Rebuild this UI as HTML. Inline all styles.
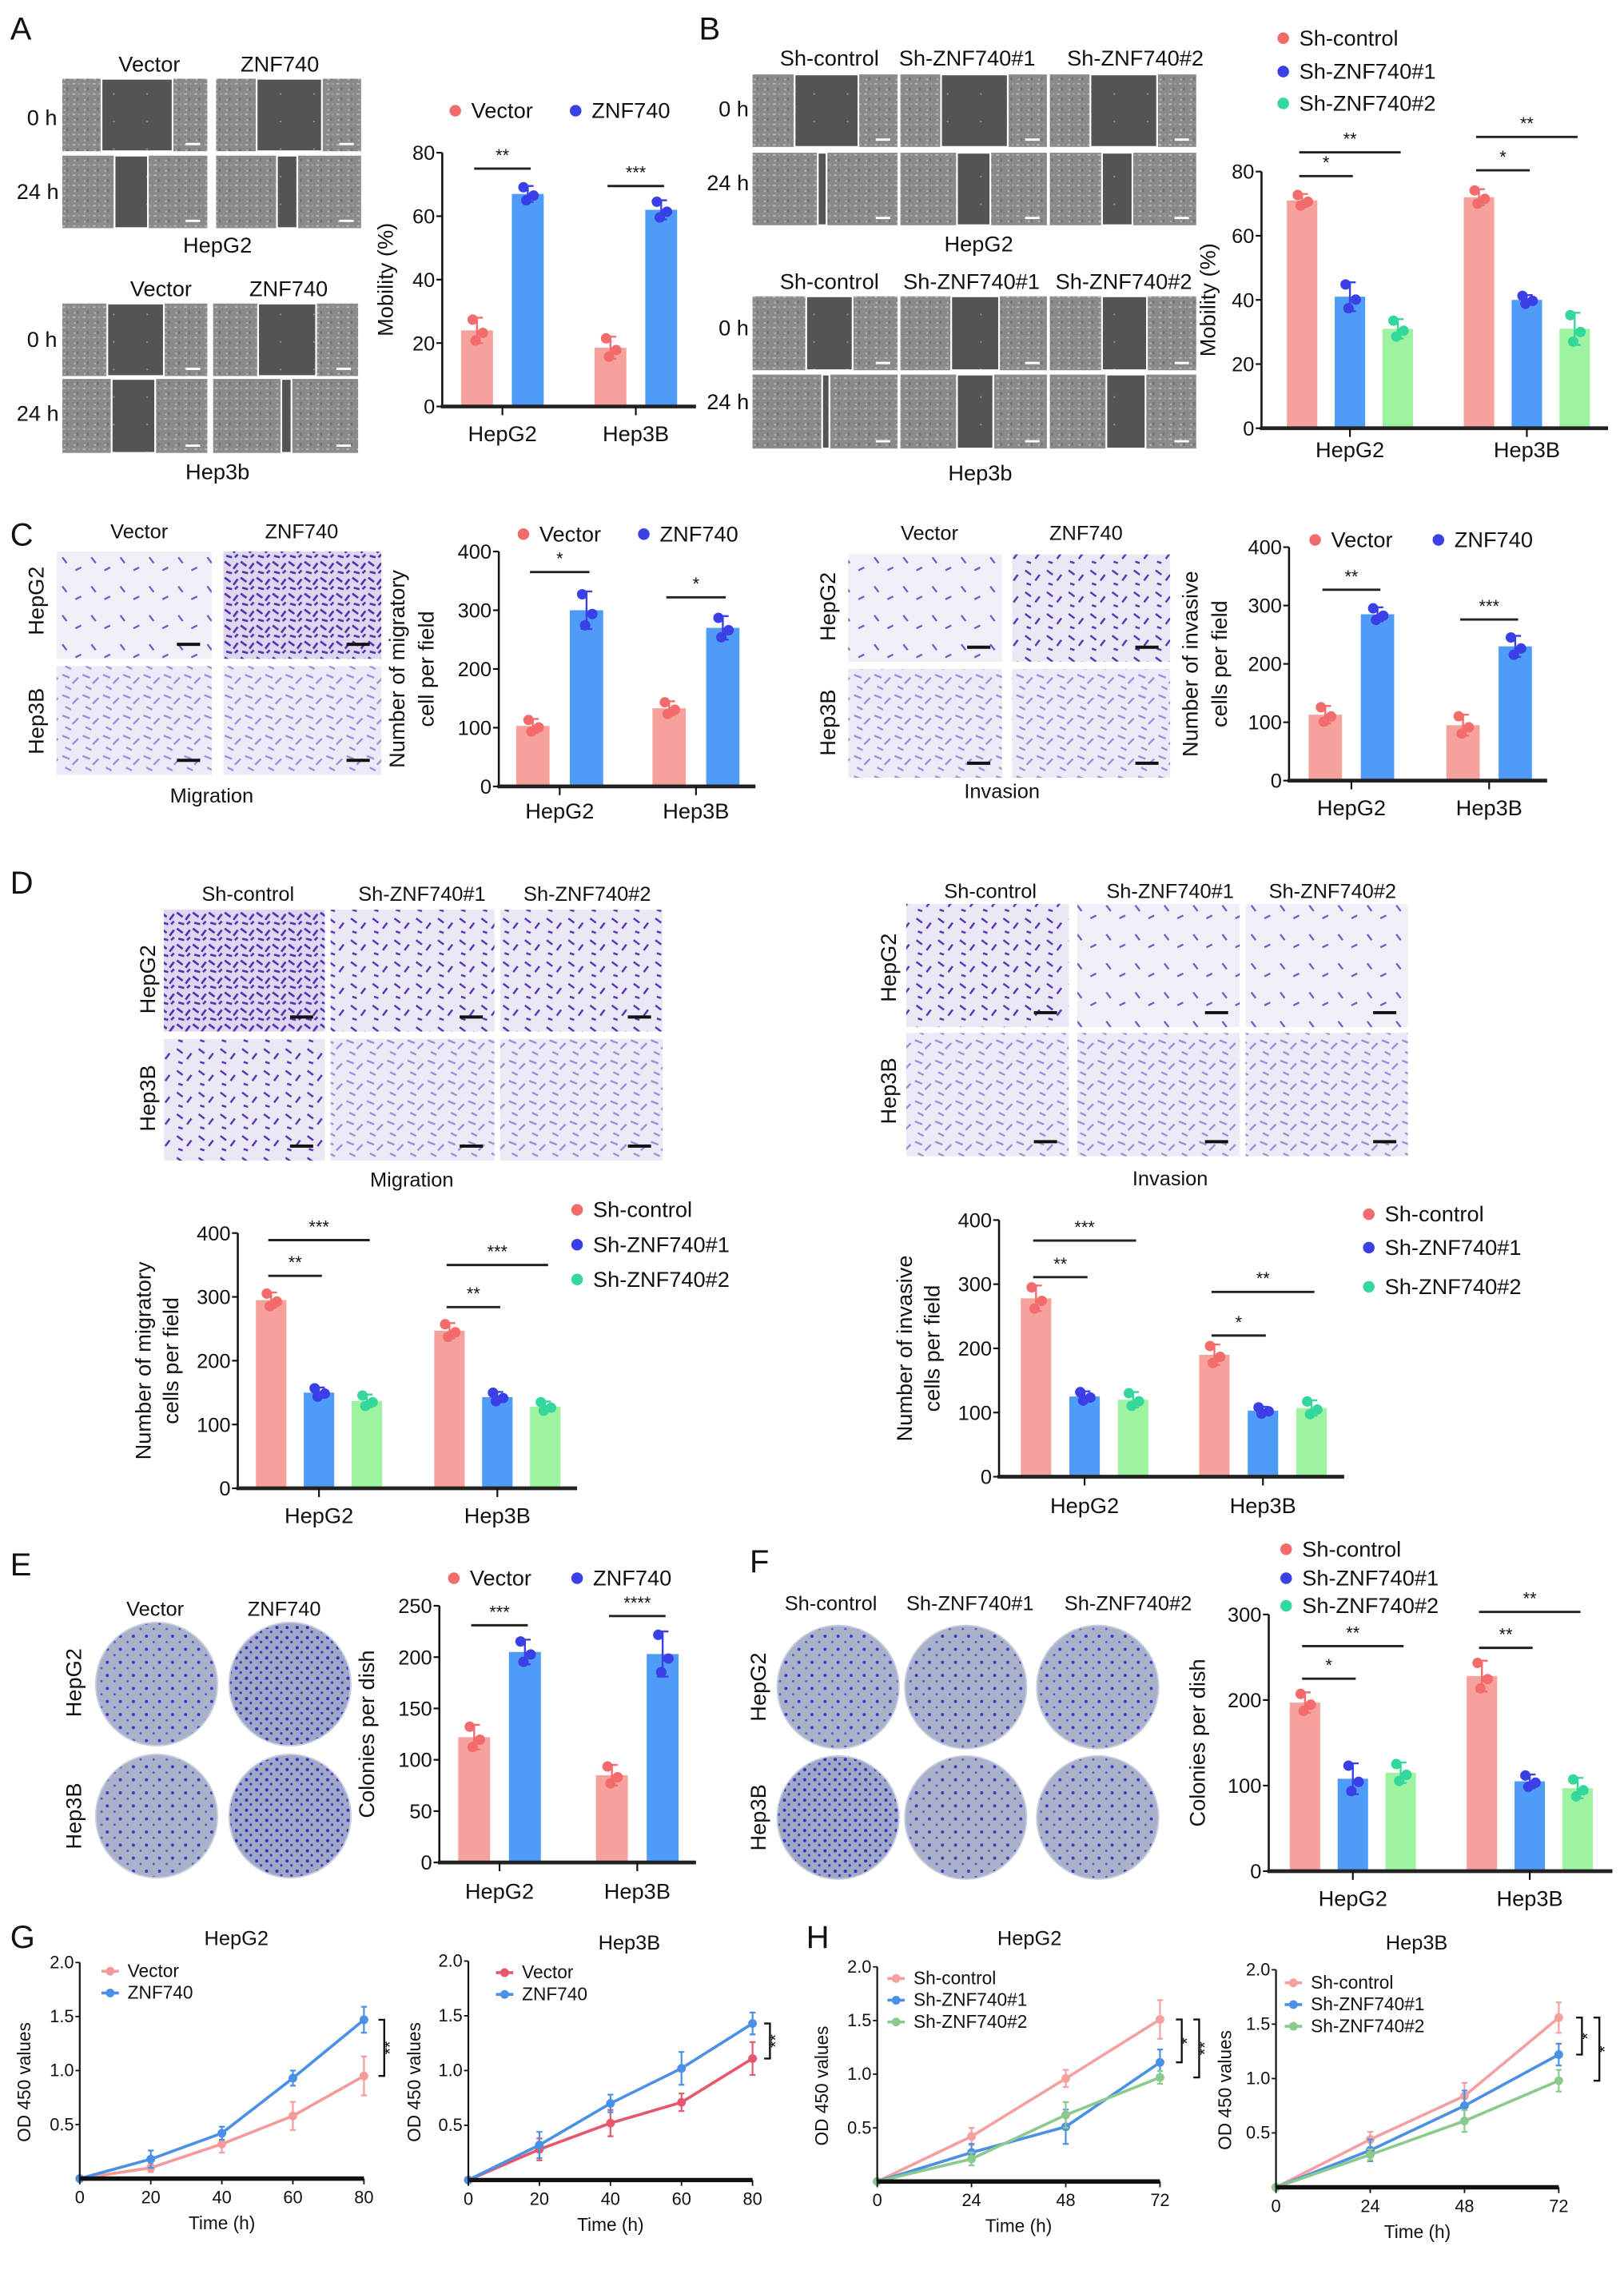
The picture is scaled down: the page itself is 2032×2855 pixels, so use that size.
<!DOCTYPE html>
<html><head><meta charset="utf-8"><title>ZNF740 figure</title>
<style>
html,body{margin:0;padding:0;background:#fff;}
svg{display:block;font-family:"Liberation Sans",Arial,sans-serif;}
</style></head>
<body>
<svg id="fig" width="2032" height="2855" viewBox="0 0 1120 1573" xmlns="http://www.w3.org/2000/svg">
<defs>
<pattern id="scr" width="7" height="7" patternUnits="userSpaceOnUse"><rect width="7" height="7" fill="#8a8a8a"/><rect x="1" y="1" width="2" height="1" fill="#b8b8b8"/><rect x="4" y="4" width="1" height="2" fill="#6c6c6c"/><rect x="5" y="1" width="1" height="1" fill="#a8a8a8"/><rect x="2" y="5" width="1" height="1" fill="#c0c0c0"/></pattern>
<pattern id="gap" width="23" height="19" patternUnits="userSpaceOnUse"><rect width="23" height="19" fill="#545454"/><rect x="9" y="7" width="1" height="1" fill="#9a9a9a"/></pattern>
<pattern id="twD" width="11" height="11" patternUnits="userSpaceOnUse"><rect width="11" height="11" fill="#ddd8f0"/><path d="M1 2l4 3M7 7l3-4M2 9l4 1M8 10l2-2" stroke="#5530b0" stroke-width="1.5"/></pattern>
<pattern id="twM" width="15" height="15" patternUnits="userSpaceOnUse"><rect width="15" height="15" fill="#ebe8f5"/><path d="M2 3l4 3M9 10l3-4M3 12l3 1" stroke="#5a36b4" stroke-width="1.4"/></pattern>
<pattern id="twS" width="20" height="20" patternUnits="userSpaceOnUse"><rect width="20" height="20" fill="#f0eff7"/><path d="M3 4l3 4M12 13l4-2" stroke="#7458c4" stroke-width="1.3"/></pattern>
<pattern id="twL" width="14" height="14" patternUnits="userSpaceOnUse"><rect width="14" height="14" fill="#eceaf6"/><path d="M1 3l5 2M8 9l4-4M3 11l4 2" stroke="#9a8fd9" stroke-width="1.3"/></pattern>
<pattern id="dish" width="9" height="9" patternUnits="userSpaceOnUse"><rect width="9" height="9" fill="#a9b2c8"/><circle cx="2" cy="3" r="1.1" fill="#3b3ac8"/><circle cx="7" cy="7" r="0.8" fill="#5456c9"/></pattern>
<pattern id="dishD" width="7" height="7" patternUnits="userSpaceOnUse"><rect width="7" height="7" fill="#9fa8c4"/><circle cx="2" cy="2" r="1.1" fill="#3030c4"/><circle cx="5" cy="5" r="0.9" fill="#3a3ac8"/></pattern>
</defs>
</svg>
<script>
// ===== data =====
const A_cats = ['HepG2', 'Hep3B'];
const A_vector = [24, 18.5];
const A_vector_sd = [4, 3.5];
const A_znf = [67, 62];
const A_znf_sd = [2.5, 3];
const A_ticks = [0, 20, 40, 60, 80];

const B_ctl = [71, 72];
const B_ctl_sd = [2, 2.5];
const B_sh1 = [41, 40];
const B_sh1_sd = [4.5, 1.5];
const B_sh2 = [31, 31];
const B_sh2_sd = [3, 5];
const B_ticks = [0, 20, 40, 60, 80];

const C1_vector = [103, 133];
const C1_vector_sd = [12, 12];
const C1_znf = [300, 270];
const C1_znf_sd = [32, 20];
const C2_vector = [113, 95];
const C2_vector_sd = [15, 18];
const C2_znf = [285, 230];
const C2_znf_sd = [12, 18];
const C_ticks = [0, 100, 200, 300, 400];

const D1_ctl = [295, 247];
const D1_ctl_sd = [12, 12];
const D1_sh1 = [150, 143];
const D1_sh1_sd = [8, 8];
const D1_sh2 = [137, 128];
const D1_sh2_sd = [10, 8];
const D2_ctl = [278, 190];
const D2_ctl_sd = [20, 16];
const D2_sh1 = [125, 103];
const D2_sh1_sd = [8, 6];
const D2_sh2 = [120, 107];
const D2_sh2_sd = [12, 12];
const D_ticks = [0, 100, 200, 300, 400];

const E_vector = [122, 85];
const E_vector_sd = [12, 10];
const E_znf = [205, 203];
const E_znf_sd = [12, 22];
const E_ticks = [0, 50, 100, 150, 200, 250];

const F_ctl = [197, 228];
const F_ctl_sd = [12, 18];
const F_sh1 = [108, 105];
const F_sh1_sd = [18, 8];
const F_sh2 = [115, 97];
const F_sh2_sd = [12, 12];
const F_ticks = [0, 100, 200, 300];

const G_time = [0, 20, 40, 60, 80];
const G1_vector = [0, 0.10, 0.32, 0.58, 0.95];
const G1_vector_sd = [0, 0.04, 0.08, 0.13, 0.18];
const G1_znf = [0, 0.18, 0.42, 0.93, 1.47];
const G1_znf_sd = [0, 0.08, 0.06, 0.07, 0.12];
const G2_vector = [0, 0.28, 0.52, 0.71, 1.11];
const G2_vector_sd = [0, 0.10, 0.12, 0.08, 0.15];
const G2_znf = [0, 0.32, 0.70, 1.02, 1.43];
const G2_znf_sd = [0, 0.12, 0.08, 0.15, 0.10];

const H_time = [0, 24, 48, 72];
const H1_ctl = [0, 0.42, 0.96, 1.51];
const H1_ctl_sd = [0, 0.08, 0.08, 0.18];
const H1_sh1 = [0, 0.27, 0.51, 1.11];
const H1_sh1_sd = [0, 0.08, 0.16, 0.12];
const H1_sh2 = [0, 0.21, 0.62, 0.97];
const H1_sh2_sd = [0, 0.06, 0.12, 0.06];
const H2_ctl = [0, 0.44, 0.84, 1.56];
const H2_ctl_sd = [0, 0.07, 0.12, 0.14];
const H2_sh1 = [0, 0.34, 0.75, 1.22];
const H2_sh1_sd = [0, 0.10, 0.14, 0.10];
const H2_sh2 = [0, 0.30, 0.61, 0.98];
const H2_sh2_sd = [0, 0.05, 0.10, 0.10];
const OD_ticks = [0.5, 1.0, 1.5, 2.0];

// ===== helpers =====
const NS = 'http://www.w3.org/2000/svg';
const root = document.getElementById('fig');
function mk(tag, attrs, parent) {
  const e = document.createElementNS(NS, tag);
  for (const k in attrs) e.setAttribute(k, attrs[k]);
  (parent || root).appendChild(e);
  return e;
}
function tag(e, n) {
  
  
  return e;
}
function grp(n) { const g = mk('g', {}); tag(g, n); return g; }
function txt(p, x, y, s, size, anchor, n, rot, weight) {
  const a = {x: x, y: y, 'font-size': size, 'text-anchor': anchor || 'middle', fill: '#111'};
  if (rot) a.transform = 'rotate(-90 ' + x + ' ' + y + ')';
  if (weight) a['font-weight'] = weight;
  const t = mk('text', a, p);
  t.textContent = s;
  tag(t, n);
  return t;
}
const PINK = '#f7a19c', BLUE = '#4e9cf8', GREEN = '#9ef3a0';
const DPINK = '#f36b6b', DBLUE = '#3a3fe6', DGREEN = '#34d79c';

function letter(x, y, s) { txt(root, x, y, s, 22, 'start', 'panel-label-' + s.toLowerCase()); }

function barChart(c) {
  const g = grp(c.name);
  const y = v => c.y0 - v / c.vmax * (c.y0 - c.yTop);
  const n = c.series.length;
  const bx = (gi, si) => c.g0 + gi * c.gstep + (si - (n - 1) / 2) * c.bstep;
  c.series.forEach((s, si) => {
    s.vals.forEach((v, gi) => {
      const cx = bx(gi, si);
      const r = mk('rect', {x: cx - c.bw / 2, y: y(v), width: c.bw, height: c.y0 - y(v), fill: s.fill}, g);
      tag(r, 'bar-' + s.key + '-' + c.cats[gi].toLowerCase());
      const sd = s.sd[gi];
      const eb = mk('path', {d: 'M' + cx + ' ' + y(v + sd) + 'V' + y(v - sd) + 'M' + (cx - 4) + ' ' + y(v + sd) + 'h8M' + (cx - 4) + ' ' + y(v - sd) + 'h8', stroke: s.dot, 'stroke-width': 1.3, fill: 'none'}, g);
      tag(eb, 'error-bar');
      [[-3, v + sd * 0.85], [4, v - sd * 0.2], [-1, v - sd * 0.8]].forEach(p => {
        const d = mk('circle', {cx: cx + p[0], cy: y(p[1]), r: 3.6, fill: s.dot}, g);
        tag(d, 'replicate-dot');
      });
    });
  });
  const ya = mk('line', {x1: c.ax, x2: c.ax, y1: c.y0, y2: c.yTop, stroke: '#111', 'stroke-width': 1.4}, g);
  tag(ya, 'y-axis');
  const xa = mk('line', {x1: c.ax - 1, x2: c.xEnd, y1: c.y0, y2: c.y0, stroke: '#222', 'stroke-width': 2.6}, g);
  tag(xa, 'x-axis');
  c.ticks.forEach(t => {
    const tk = mk('line', {x1: c.ax - 4, x2: c.ax, y1: y(t), y2: y(t), stroke: '#111', 'stroke-width': 1.2}, g);
    tag(tk, 'y-tick');
    txt(g, c.ax - 5, y(t) + 5, String(t), 14, 'end', 'y-tick-label');
  });
  c.cats.forEach((cat, gi) => {
    const cx = c.g0 + gi * c.gstep;
    const tk = mk('line', {x1: cx, x2: cx, y1: c.y0, y2: c.y0 + 6, stroke: '#111', 'stroke-width': 1.2}, g);
    tag(tk, 'x-tick');
    txt(g, cx, c.catY, cat, 15, 'middle', 'x-category-label');
  });
  const cy = (c.y0 + c.yTop) / 2 + (c.tShift || 0);
  c.ytitle.forEach((line, i) => txt(g, c.tx[i], cy, line, 15, 'middle', 'y-axis-title', true));
  c.sig.forEach(sg => {
    const xa1 = bx(sg[0], sg[1]), xb = bx(sg[0], sg[2]), yy = y(sg[3]);
    const l = mk('line', {x1: xa1 - 2, x2: xb + 2, y1: yy, y2: yy, stroke: '#222', 'stroke-width': 1.6}, g);
    tag(l, 'significance-bar');
    txt(g, (xa1 + xb) / 2, yy - 5, sg[4], 12, 'middle', 'significance-stars');
  });
  c.legend.forEach(it => {
    const d = mk('circle', {cx: it[1], cy: it[2] - 5, r: 4, fill: it[3]}, g);
    tag(d, 'legend-marker');
    txt(g, it[1] + 11, it[2], it[0], 15, 'start', 'legend-entry');
  });
}

function lineChart(c) {
  const g = grp(c.name);
  const x = t => c.ax + t / c.xmax * (c.xEnd - c.ax);
  const y = v => c.y0 - v / 2 * (c.y0 - c.yTop);
  txt(g, c.titleX, c.titleY, c.title, 14, 'middle', 'chart-title');
  c.series.forEach(s => {
    const pl = mk('polyline', {points: c.times.map((t, i) => x(t) + ',' + y(s.vals[i])).join(' '), fill: 'none', stroke: s.color, 'stroke-width': 2}, g);
    tag(pl, 'line-' + s.key);
    c.times.forEach((t, i) => {
      const sd = s.sd[i];
      if (sd > 0) {
        const eb = mk('path', {d: 'M' + x(t) + ' ' + y(s.vals[i] + sd) + 'V' + y(s.vals[i] - sd) + 'M' + (x(t) - 2) + ' ' + y(s.vals[i] + sd) + 'h4M' + (x(t) - 2) + ' ' + y(s.vals[i] - sd) + 'h4', stroke: s.color, 'stroke-width': 1.2, fill: 'none'}, g);
        tag(eb, 'error-bar');
      }
      const m = mk('circle', {cx: x(t), cy: y(s.vals[i]), r: 3, fill: s.color}, g);
      tag(m, 'point-' + s.key);
    });
  });
  const ya = mk('line', {x1: c.ax, x2: c.ax, y1: c.y0, y2: c.yTop, stroke: '#111', 'stroke-width': 1.2}, g);
  tag(ya, 'y-axis');
  const xa = mk('line', {x1: c.ax, x2: c.xEnd, y1: c.y0, y2: c.y0, stroke: '#111', 'stroke-width': 3}, g);
  tag(xa, 'x-axis');
  OD_ticks.forEach(t => {
    const tk = mk('line', {x1: c.ax - 3, x2: c.ax, y1: y(t), y2: y(t), stroke: '#111', 'stroke-width': 1}, g);
    tag(tk, 'y-tick');
    txt(g, c.ax - 4, y(t) + 4, t.toFixed(1), 12, 'end', 'y-tick-label');
  });
  c.xticks.forEach(t => {
    const tk = mk('line', {x1: x(t), x2: x(t), y1: c.y0, y2: c.y0 + 4, stroke: '#111', 'stroke-width': 1}, g);
    tag(tk, 'x-tick');
    txt(g, x(t), c.y0 + 17, String(t), 12, 'middle', 'x-tick-label');
  });
  txt(g, (c.ax + c.xEnd) / 2, c.y0 + 35, 'Time (h)', 12.5, 'middle', 'x-axis-title');
  txt(g, c.ytx, (c.y0 + c.yTop) / 2 + 8, 'OD 450 values', 12.5, 'middle', 'y-axis-title', true);
  c.legend.forEach((it, i) => {
    const s = c.series[i];
    const ly = c.legY + i * c.legStep;
    const ln = mk('line', {x1: c.legX - 6, x2: c.legX + 6, y1: ly - 4, y2: ly - 4, stroke: s.color, 'stroke-width': 2}, g);
    tag(ln, 'legend-line');
    const m = mk('circle', {cx: c.legX, cy: ly - 4, r: 3, fill: s.color}, g);
    tag(m, 'legend-marker');
    txt(g, c.legX + 12, ly, it, 12.5, 'start', 'legend-entry');
  });
  c.brackets.forEach(b => {
    const last = c.times.length - 1;
    const ya1 = y(c.series[b[0]].vals[last]), yb = y(c.series[b[1]].vals[last]);
    const p = mk('path', {d: 'M' + (b[2] - 4) + ' ' + ya1 + 'H' + b[2] + 'V' + yb + 'H' + (b[2] - 4), stroke: '#111', 'stroke-width': 1.3, fill: 'none'}, g);
    tag(p, 'significance-bracket');
    txt(g, b[2] + 8, (ya1 + yb) / 2, b[3], 12, 'middle', 'significance-stars', true);
  });
}

function scratch(x, y, w, h, g1, g2, n) {
  const g = grp(n);
  const r = mk('rect', {x: x, y: y, width: w, height: h, fill: 'url(#scr)'}, g);
  tag(r, 'cell-field');
  const gp = mk('rect', {x: g1, y: y, width: g2 - g1, height: h, fill: 'url(#gap)', stroke: '#fff', 'stroke-width': 1.2}, g);
  tag(gp, 'wound-gap');
  const sb = mk('line', {x1: x + w - 15, x2: x + w - 5, y1: y + h - 5, y2: y + h - 5, stroke: '#fff', 'stroke-width': 1.6}, g);
  tag(sb, 'scale-bar');
}
function tw(x, y, w, h, pat, n) {
  const g = grp(n);
  const r = mk('rect', {x: x, y: y, width: w, height: h, fill: 'url(#' + pat + ')'}, g);
  tag(r, 'stained-cells');
  const sb = mk('line', {x1: x + w - 24, x2: x + w - 8, y1: y + h - 10, y2: y + h - 10, stroke: '#111', 'stroke-width': 2.2}, g);
  tag(sb, 'scale-bar');
}
function dish(cx, cy, pat, n) {
  const e = mk('ellipse', {cx: cx, cy: cy, rx: 42, ry: 42.5, fill: 'url(#' + pat + ')', stroke: '#c8cde0', 'stroke-width': 1}, root);
  tag(e, n);
}

// ===== Panel A =====
letter(7, 27, 'A');
txt(root, 103, 49, 'Vector', 15, 'middle', 'column-header');
txt(root, 193, 49, 'ZNF740', 15, 'middle', 'column-header');
txt(root, 29, 86, '0 h', 15, 'middle', 'row-label');
txt(root, 26, 137, '24 h', 15, 'middle', 'row-label');
scratch(43, 54, 100, 50, 70, 119, 'hepg2-vector-0h');
scratch(149, 54, 100, 50, 177, 222, 'hepg2-znf740-0h');
scratch(43, 107, 100, 50, 79, 102, 'hepg2-vector-24h');
scratch(149, 107, 100, 50, 191, 205, 'hepg2-znf740-24h');
txt(root, 150, 174, 'HepG2', 15, 'middle', 'image-caption');
txt(root, 111, 204, 'Vector', 15, 'middle', 'column-header');
txt(root, 199, 204, 'ZNF740', 15, 'middle', 'column-header');
txt(root, 29, 239, '0 h', 15, 'middle', 'row-label');
txt(root, 26, 290, '24 h', 15, 'middle', 'row-label');
scratch(43, 209, 100, 50, 74, 113, 'hep3b-vector-0h');
scratch(147, 209, 100, 50, 178, 218, 'hep3b-znf740-0h');
scratch(43, 261, 100, 51, 77, 107, 'hep3b-vector-24h');
scratch(147, 261, 100, 51, 194, 201, 'hep3b-znf740-24h');
txt(root, 150, 330, 'Hep3b', 15, 'middle', 'image-caption');
barChart({name: 'chart-a-mobility', ax: 305, xEnd: 480, y0: 280, yTop: 105, vmax: 80, ticks: A_ticks,
  g0: 346.5, gstep: 92, bstep: 35, bw: 22, cats: A_cats, catY: 304,
  series: [{key: 'vector', vals: A_vector, sd: A_vector_sd, fill: PINK, dot: DPINK}, {key: 'znf740', vals: A_znf, sd: A_znf_sd, fill: BLUE, dot: DBLUE}],
  ytitle: ['Mobility (%)'], tx: [271], sig: [[0, 0, 1, 75, '**'], [1, 0, 1, 69.5, '***']],
  legend: [['Vector', 314, 81, DPINK], ['ZNF740', 397, 81, DBLUE]]});

// ===== Panel B =====
letter(482, 27, 'B');
[['Sh-control', 572], ['Sh-ZNF740#1', 667], ['Sh-ZNF740#2', 783]].forEach(h => txt(root, h[1], 45, h[0], 15, 'middle', 'column-header'));
txt(root, 506, 80, '0 h', 15, 'middle', 'row-label');
txt(root, 502, 131, '24 h', 15, 'middle', 'row-label');
scratch(519, 51, 100, 50, 548, 592, 'b-hepg2-control-0h');
scratch(621, 51, 101, 50, 649, 695, 'b-hepg2-sh1-0h');
scratch(724, 51, 101, 50, 752, 798, 'b-hepg2-sh2-0h');
scratch(519, 105, 100, 50, 564, 570, 'b-hepg2-control-24h');
scratch(621, 105, 101, 50, 660, 683, 'b-hepg2-sh1-24h');
scratch(724, 105, 101, 50, 760, 781, 'b-hepg2-sh2-24h');
txt(root, 675, 173, 'HepG2', 15, 'middle', 'image-caption');
[['Sh-control', 572], ['Sh-ZNF740#1', 670], ['Sh-ZNF740#2', 775]].forEach(h => txt(root, h[1], 199, h[0], 15, 'middle', 'column-header'));
txt(root, 506, 231, '0 h', 15, 'middle', 'row-label');
txt(root, 502, 282, '24 h', 15, 'middle', 'row-label');
scratch(519, 204, 100, 51, 556, 588, 'b-hep3b-control-0h');
scratch(621, 204, 101, 51, 656, 689, 'b-hep3b-sh1-0h');
scratch(724, 204, 101, 51, 760, 791, 'b-hep3b-sh2-0h');
scratch(519, 258, 100, 51, 567, 572, 'b-hep3b-control-24h');
scratch(621, 258, 101, 51, 660, 685, 'b-hep3b-sh1-24h');
scratch(724, 258, 101, 51, 763, 790, 'b-hep3b-sh2-24h');
txt(root, 676, 331, 'Hep3b', 15, 'middle', 'image-caption');
barChart({name: 'chart-b-mobility', ax: 870, xEnd: 1109, y0: 295, yTop: 118, vmax: 80, ticks: B_ticks,
  g0: 931, gstep: 122, bstep: 33, bw: 21, cats: A_cats, catY: 315,
  series: [{key: 'sh-control', vals: B_ctl, sd: B_ctl_sd, fill: PINK, dot: DPINK}, {key: 'sh-znf740-1', vals: B_sh1, sd: B_sh1_sd, fill: BLUE, dot: DBLUE}, {key: 'sh-znf740-2', vals: B_sh2, sd: B_sh2_sd, fill: GREEN, dot: DGREEN}],
  ytitle: ['Mobility (%)'], tx: [838], sig: [[0, 0, 1, 78.6, '*'], [0, 0, 2, 86, '**'], [1, 0, 1, 80.4, '*'], [1, 0, 2, 90.8, '**']],
  legend: [['Sh-control', 885, 31, DPINK], ['Sh-ZNF740#1', 885, 54, DBLUE], ['Sh-ZNF740#2', 885, 76, DGREEN]]});

// ===== Panel C =====
letter(7, 376, 'C');
txt(root, 96, 371, 'Vector', 14, 'middle', 'column-header');
txt(root, 208, 371, 'ZNF740', 14, 'middle', 'column-header');
tw(39, 380, 107, 74, 'twS', 'c-mig-hepg2-vector');
tw(154, 380, 109, 74, 'twD', 'c-mig-hepg2-znf740');
tw(39, 459, 107, 75, 'twL', 'c-mig-hep3b-vector');
tw(154, 459, 109, 75, 'twL', 'c-mig-hep3b-znf740');
txt(root, 30, 414, 'HepG2', 15, 'middle', 'row-label', true);
txt(root, 30, 497, 'Hep3B', 15, 'middle', 'row-label', true);
txt(root, 146, 553, 'Migration', 14, 'middle', 'image-caption');
barChart({name: 'chart-c-migration', ax: 344, xEnd: 521, y0: 542, yTop: 380, vmax: 400, ticks: C_ticks,
  g0: 386, gstep: 94, bstep: 37, bw: 23, cats: A_cats, catY: 564,
  series: [{key: 'vector', vals: C1_vector, sd: C1_vector_sd, fill: PINK, dot: DPINK}, {key: 'znf740', vals: C1_znf, sd: C1_znf_sd, fill: BLUE, dot: DBLUE}],
  ytitle: ['Number of migratory', 'cell per field'], tx: [279, 299], sig: [[0, 0, 1, 365, '*'], [1, 0, 1, 322, '*']],
  legend: [['Vector', 361, 373, DPINK], ['ZNF740', 444, 373, DBLUE]]});
txt(root, 641, 372, 'Vector', 14, 'middle', 'column-header');
txt(root, 749, 372, 'ZNF740', 14, 'middle', 'column-header');
tw(585, 382, 106, 74, 'twS', 'c-inv-hepg2-vector');
tw(698, 382, 109, 74, 'twM', 'c-inv-hepg2-znf740');
tw(585, 461, 106, 75, 'twL', 'c-inv-hep3b-vector');
tw(698, 461, 109, 75, 'twL', 'c-inv-hep3b-znf740');
txt(root, 576, 418, 'HepG2', 15, 'middle', 'row-label', true);
txt(root, 576, 498, 'Hep3B', 15, 'middle', 'row-label', true);
txt(root, 691, 550, 'Invasion', 14, 'middle', 'image-caption');
barChart({name: 'chart-c-invasion', ax: 889, xEnd: 1067, y0: 538, yTop: 377, vmax: 400, ticks: C_ticks,
  g0: 932, gstep: 95, bstep: 36, bw: 23, cats: A_cats, catY: 562,
  series: [{key: 'vector', vals: C2_vector, sd: C2_vector_sd, fill: PINK, dot: DPINK}, {key: 'znf740', vals: C2_znf, sd: C2_znf_sd, fill: BLUE, dot: DBLUE}],
  ytitle: ['Number of invasive', 'cells per field'], tx: [826, 846], sig: [[0, 0, 1, 327, '**'], [1, 0, 1, 276, '***']],
  legend: [['Vector', 907, 377, DPINK], ['ZNF740', 992, 377, DBLUE]]});

// ===== Panel D =====
letter(7, 616, 'D');
[['Sh-control', 171], ['Sh-ZNF740#1', 291], ['Sh-ZNF740#2', 405]].forEach(h => txt(root, h[1], 621, h[0], 14, 'middle', 'column-header'));
tw(113, 627, 111, 84, 'twD', 'd-mig-hepg2-control');
tw(228, 627, 113, 84, 'twM', 'd-mig-hepg2-sh1');
tw(345, 627, 112, 84, 'twM', 'd-mig-hepg2-sh2');
tw(113, 716, 111, 84, 'twM', 'd-mig-hep3b-control');
tw(228, 716, 113, 84, 'twL', 'd-mig-hep3b-sh1');
tw(345, 716, 112, 84, 'twL', 'd-mig-hep3b-sh2');
txt(root, 107, 675, 'HepG2', 15, 'middle', 'row-label', true);
txt(root, 107, 757, 'Hep3B', 15, 'middle', 'row-label', true);
txt(root, 284, 818, 'Migration', 14, 'middle', 'image-caption');
[['Sh-control', 683], ['Sh-ZNF740#1', 807], ['Sh-ZNF740#2', 919]].forEach(h => txt(root, h[1], 619, h[0], 14, 'middle', 'column-header'));
tw(625, 623, 112, 85, 'twM', 'd-inv-hepg2-control');
tw(743, 623, 112, 85, 'twS', 'd-inv-hepg2-sh1');
tw(859, 623, 112, 85, 'twS', 'd-inv-hepg2-sh2');
tw(625, 712, 112, 85, 'twL', 'd-inv-hep3b-control');
tw(743, 712, 112, 85, 'twL', 'd-inv-hep3b-sh1');
tw(859, 712, 112, 85, 'twL', 'd-inv-hep3b-sh2');
txt(root, 618, 667, 'HepG2', 15, 'middle', 'row-label', true);
txt(root, 618, 752, 'Hep3B', 15, 'middle', 'row-label', true);
txt(root, 807, 817, 'Invasion', 14, 'middle', 'image-caption');
barChart({name: 'chart-d-migration', ax: 164, xEnd: 398, y0: 1026, yTop: 850, vmax: 400, ticks: D_ticks,
  g0: 220, gstep: 123, bstep: 33, bw: 21, cats: A_cats, catY: 1050,
  series: [{key: 'sh-control', vals: D1_ctl, sd: D1_ctl_sd, fill: PINK, dot: DPINK}, {key: 'sh-znf740-1', vals: D1_sh1, sd: D1_sh1_sd, fill: BLUE, dot: DBLUE}, {key: 'sh-znf740-2', vals: D1_sh2, sd: D1_sh2_sd, fill: GREEN, dot: DGREEN}],
  ytitle: ['Number of migratory', 'cells per field'], tx: [104, 123], sig: [[0, 0, 1, 333, '**'], [0, 0, 2, 389, '***'], [1, 0, 1, 284, '**'], [1, 0, 2, 350, '***']],
  legend: [['Sh-control', 398, 839, DPINK], ['Sh-ZNF740#1', 398, 863, DBLUE], ['Sh-ZNF740#2', 398, 887, DGREEN]]});
barChart({name: 'chart-d-invasion', ax: 689, xEnd: 927, y0: 1018, yTop: 841, vmax: 400, ticks: D_ticks,
  g0: 748, gstep: 123, bstep: 33.5, bw: 21, cats: A_cats, catY: 1043,
  series: [{key: 'sh-control', vals: D2_ctl, sd: D2_ctl_sd, fill: PINK, dot: DPINK}, {key: 'sh-znf740-1', vals: D2_sh1, sd: D2_sh1_sd, fill: BLUE, dot: DBLUE}, {key: 'sh-znf740-2', vals: D2_sh2, sd: D2_sh2_sd, fill: GREEN, dot: DGREEN}],
  ytitle: ['Number of invasive', 'cells per field'], tx: [629, 648], sig: [[0, 0, 1, 311, '**'], [0, 0, 2, 368, '***'], [1, 0, 1, 220, '*'], [1, 0, 2, 288, '**']],
  legend: [['Sh-control', 944, 842, DPINK], ['Sh-ZNF740#1', 944, 865, DBLUE], ['Sh-ZNF740#2', 944, 892, DGREEN]]});

// ===== Panel E =====
letter(7, 1086, 'E');
txt(root, 107, 1114, 'Vector', 14, 'middle', 'column-header');
txt(root, 196, 1114, 'ZNF740', 14, 'middle', 'column-header');
dish(108, 1161, 'dish', 'dish-hepg2-vector');
dish(200, 1161, 'dishD', 'dish-hepg2-znf740');
dish(108, 1252, 'dish', 'dish-hep3b-vector');
dish(200, 1252, 'dishD', 'dish-hep3b-znf740');
txt(root, 56, 1160, 'HepG2', 15, 'middle', 'row-label', true);
txt(root, 56, 1252, 'Hep3B', 15, 'middle', 'row-label', true);
barChart({name: 'chart-e-colonies', ax: 303, xEnd: 480, y0: 1284, yTop: 1107, vmax: 250, ticks: E_ticks,
  g0: 344.5, gstep: 95, bstep: 35, bw: 22, cats: A_cats, catY: 1309,
  series: [{key: 'vector', vals: E_vector, sd: E_vector_sd, fill: PINK, dot: DPINK}, {key: 'znf740', vals: E_znf, sd: E_znf_sd, fill: BLUE, dot: DBLUE}],
  ytitle: ['Colonies per dish'], tx: [258], sig: [[0, 0, 1, 231, '***'], [1, 0, 1, 240, '****']],
  legend: [['Vector', 313, 1093, DPINK], ['ZNF740', 398, 1093, DBLUE]]});

// ===== Panel F =====
letter(517, 1084, 'F');
[['Sh-control', 573], ['Sh-ZNF740#1', 669], ['Sh-ZNF740#2', 778]].forEach(h => txt(root, h[1], 1110, h[0], 14, 'middle', 'column-header'));
dish(578, 1163, 'dish', 'dish-hepg2-control');
dish(666, 1163, 'dish', 'dish-hepg2-sh1');
dish(757, 1163, 'dish', 'dish-hepg2-sh2');
dish(578, 1253, 'dishD', 'dish-hep3b-control');
dish(666, 1253, 'dish', 'dish-hep3b-sh1');
dish(757, 1253, 'dish', 'dish-hep3b-sh2');
txt(root, 528, 1163, 'HepG2', 15, 'middle', 'row-label', true);
txt(root, 528, 1253, 'Hep3B', 15, 'middle', 'row-label', true);
barChart({name: 'chart-f-colonies', ax: 875, xEnd: 1112, y0: 1290, yTop: 1113, vmax: 300, ticks: F_ticks,
  g0: 933, gstep: 122, bstep: 33, bw: 21, cats: A_cats, catY: 1314,
  series: [{key: 'sh-control', vals: F_ctl, sd: F_ctl_sd, fill: PINK, dot: DPINK}, {key: 'sh-znf740-1', vals: F_sh1, sd: F_sh1_sd, fill: BLUE, dot: DBLUE}, {key: 'sh-znf740-2', vals: F_sh2, sd: F_sh2_sd, fill: GREEN, dot: DGREEN}],
  ytitle: ['Colonies per dish'], tx: [831], sig: [[0, 0, 1, 225, '*'], [0, 0, 2, 263, '**'], [1, 0, 1, 261, '**'], [1, 0, 2, 303, '**']],
  legend: [['Sh-control', 887, 1073, DPINK], ['Sh-ZNF740#1', 887, 1093, DBLUE], ['Sh-ZNF740#2', 887, 1112, DGREEN]]});

// ===== Panel G / H =====
letter(7, 1343, 'G');
letter(556, 1343, 'H');
lineChart({name: 'chart-g-hepg2', ax: 55, xEnd: 251, y0: 1502, yTop: 1353, xmax: 80, xticks: G_time, times: G_time,
  title: 'HepG2', titleX: 163, titleY: 1341, ytx: 21,
  series: [{key: 'vector', vals: G1_vector, sd: G1_vector_sd, color: '#f59a9a'}, {key: 'znf740', vals: G1_znf, sd: G1_znf_sd, color: '#4a90e6'}],
  legend: ['Vector', 'ZNF740'], legX: 76, legY: 1363, legStep: 15, brackets: [[1, 0, 265, '**']]});
lineChart({name: 'chart-g-hep3b', ax: 323, xEnd: 519, y0: 1503, yTop: 1352, xmax: 80, xticks: G_time, times: G_time,
  title: 'Hep3B', titleX: 434, titleY: 1344, ytx: 290,
  series: [{key: 'vector', vals: G2_vector, sd: G2_vector_sd, color: '#e8566c'}, {key: 'znf740', vals: G2_znf, sd: G2_znf_sd, color: '#4a90e6'}],
  legend: ['Vector', 'ZNF740'], legX: 348, legY: 1364, legStep: 15, brackets: [[1, 0, 531, '**']]});
lineChart({name: 'chart-h-hepg2', ax: 605, xEnd: 800, y0: 1504, yTop: 1356, xmax: 72, xticks: H_time, times: H_time,
  title: 'HepG2', titleX: 710, titleY: 1341, ytx: 571,
  series: [{key: 'sh-control', vals: H1_ctl, sd: H1_ctl_sd, color: '#f5a0a0'}, {key: 'sh-znf740-1', vals: H1_sh1, sd: H1_sh1_sd, color: '#4a90e6'}, {key: 'sh-znf740-2', vals: H1_sh2, sd: H1_sh2_sd, color: '#8cc98c'}],
  legend: ['Sh-control', 'Sh-ZNF740#1', 'Sh-ZNF740#2'], legX: 618, legY: 1368, legStep: 15, brackets: [[0, 1, 815, '*'], [0, 2, 827, '**']]});
lineChart({name: 'chart-h-hep3b', ax: 880, xEnd: 1075, y0: 1508, yTop: 1358, xmax: 72, xticks: H_time, times: H_time,
  title: 'Hep3B', titleX: 977, titleY: 1344, ytx: 849,
  series: [{key: 'sh-control', vals: H2_ctl, sd: H2_ctl_sd, color: '#f5a0a0'}, {key: 'sh-znf740-1', vals: H2_sh1, sd: H2_sh1_sd, color: '#4a90e6'}, {key: 'sh-znf740-2', vals: H2_sh2, sd: H2_sh2_sd, color: '#8cc98c'}],
  legend: ['Sh-control', 'Sh-ZNF740#1', 'Sh-ZNF740#2'], legX: 892, legY: 1371, legStep: 15, brackets: [[0, 1, 1091, '*'], [0, 2, 1103, '*']]});
</script>
</body></html>
